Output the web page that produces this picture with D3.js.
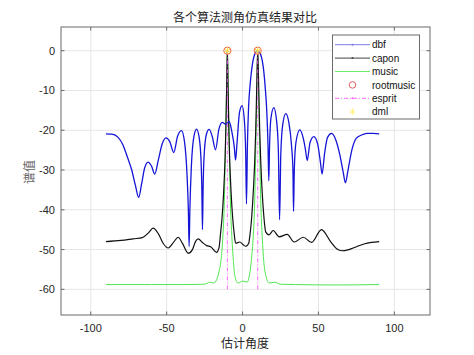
<!DOCTYPE html>
<html>
<head>
<meta charset="utf-8">
<script src="https://cdn.jsdelivr.net/npm/d3@7"></script>
<style>
  body { margin: 0; background: #fff; }
  svg { display: block; font-family: 'Liberation Sans', Arial, sans-serif; }
</style>
</head>
<body>
<svg id="chart" width="474" height="355"></svg>
<script>
// values (angle in degrees, spectrum in dB)
const dbfAngles = [-90, -86, -82, -79, -76, -73, -70.5, -68.4, -66.5, -64.5, -62.2, -60, -57.8, -55.5, -53, -50.5, -48, -45.3, -42.8, -40.2,
    -38.2, -36.6, -35.7, -35.2, -34.7, -33.7, -32, -30.3, -28.5, -27.3, -26.8, -26.4, -26, -25.4, -23.8, -22, -20, -17.8, -15.6, -13.4,
    -11.2, -8.8, -7, -5.5, -4.6, -3.6, -2, -0.3, 1.2, 2.1, 2.6, 3.2, 4, 5, 6, 7, 8, 9, 10, 11, 12, 13, 14, 15, 16, 16.8, 17.3, 17.8,
    18.7, 20.6, 22.4, 23.6, 24.4, 25.2, 26.5, 28.5, 30.5, 32.3, 33.2, 33.6, 34.1, 35.2, 37.7, 40, 41.5, 42.6, 44.5, 47, 49.5, 51.3,
    52.4, 54, 56, 58.6, 61.5, 64, 66.3, 67.8, 69.5, 72, 75, 78.4, 82, 86, 90]
const dbfValues = [-20.9, -21, -21.8, -23.5, -26.6, -30, -34, -36.9, -33.5, -29.5, -28, -29, -31, -27.5, -23.5, -21.9, -22.8, -25.6, -21.5, -20.1,
    -23, -31, -40, -49.2, -40, -29, -21.5, -19.7, -22, -28, -35, -45, -35, -27, -21, -19.8, -21.5, -24.9, -19.8, -18,
    -18.5, -17.8, -20.5, -24, -27.5, -23, -15.5, -13.8, -17.5, -26, -38.5, -24, -14, -8.5, -4.8, -2.3, -0.9, -0.2, 0, -0.2, -1, -2.5, -5.2, -9.5, -15.5, -24, -32.7, -24,
    -17, -14.3, -17.5, -25, -42.5, -26, -18.5, -15.8, -18, -24, -30, -40.4, -30, -23, -19.9, -22, -25, -27.6, -23, -21.6, -23.5, -28,
    -31, -26, -21.8, -20.8, -22.5, -26, -30.5, -33.2, -30, -25, -22, -21.2, -20.8, -20.8, -20.9]

const caponAngles = [-90, -80, -72, -66, -62, -58.9, -55.5, -52, -49, -45.5, -42.4, -39.5, -35.8, -33, -31, -29.2, -26.5, -23.7, -21, -17.1,
    -15.5, -14.5, -13.5, -12.5, -11.5, -11, -10.5, -10, -9.5, -9, -8.5, -7.5, -6.5, -5.5, -4.6, -1.8, 0.5, 2.2, 4, 5, 6, 7, 8, 8.7,
    9.3, 10, 10.7, 11.3, 12, 13, 14, 15.3, 17.5, 20.2, 24.1, 29.4, 34, 40, 45.5, 52, 58, 62, 65.5, 70, 75, 80, 85, 90]
const caponValues = [-48, -47.7, -47.3, -47, -45.8, -44.6, -46, -48.6, -49.6, -48.2, -46.9, -48.5, -50.9, -50, -48, -47.3, -48.2, -49, -49.3, -50.7,
    -49.5, -46, -42, -36, -27, -20, -10, 0, -10, -20, -27, -36, -42, -46, -48.4, -48.1, -48.8, -49.2, -48.5, -46, -42, -36, -28, -20,
    -10, 0, -10, -20, -28, -36, -41.5, -45.6, -46.3, -45.2, -46.8, -46.2, -48.1, -46.9, -48.2, -45, -48, -49.8, -50.3, -50, -49.3, -48.6, -48.2, -48]

const musicAngles = [-90, -60, -40, -25, -21.5, -19, -17, -15.5, -14, -13, -12, -11, -10.5, -10, -9.5, -9, -8, -7, -6, -5, -3, 0.3, 3, 4.5,
    6, 7, 8, 9, 9.5, 10, 10.5, 11, 12, 13, 14, 15.5, 17.5, 21.3, 25, 35, 60, 90]
const musicValues = [-58.8, -58.8, -58.8, -58.7, -58.2, -58.4, -57.5, -55.5, -52, -47, -38, -19, -9, 0, -9, -19, -38, -47, -53, -56.8, -58.4, -57.9, -58.2, -56.5,
    -52, -47, -38, -19, -9, 0, -9, -19, -38, -47, -53, -56.8, -58.4, -58.2, -58.7, -58.8, -58.9, -58.8]

const rootmusicAngles = [-10, 10]
const rootmusicValues = [0, 0]
const espritAngles = [-10, 10]
const espritRange = [-60, 0]
const dmlAngles = [-10, 10]
const dmlValues = [0, 0]

const xTicks = [-100, -50, 0, 50, 100]
const yTicks = [0, -10, -20, -30, -40, -50, -60]
const legendNames = ['dbf', 'capon', 'music', 'rootmusic', 'esprit', 'dml']

const svg = d3.select('#chart')
const plotLeft = 61
const plotRight = 430
const plotTop = 27
const plotBottom = 315

const x = d3.scaleLinear().domain([-119.6, 123.5]).range([plotLeft, plotRight])
const y = d3.scaleLinear().domain([-66.45, 5.96]).range([plotBottom, plotTop])

// grid
svg.append('g')
    .selectAll('line')
    .data(xTicks)
    .join('line')
    .attr('x1', d => x(d)).attr('x2', d => x(d))
    .attr('y1', plotTop).attr('y2', plotBottom)
    .attr('stroke', '#e6e6e6')

svg.append('g')
    .selectAll('line')
    .data(yTicks)
    .join('line')
    .attr('x1', plotLeft).attr('x2', plotRight)
    .attr('y1', d => y(d)).attr('y2', d => y(d))
    .attr('stroke', '#e6e6e6')

const plot = svg.append('g')

const line = d3.line()
    .x(d => x(d[0]))
    .y(d => y(d[1]))
    .curve(d3.curveMonotoneX)

const zip = (a, b) => a.map((v, i) => [v, b[i]])

plot.append('path')
    .datum(zip(musicAngles, musicValues))
    .attr('d', line)
    .attr('fill', 'none')
    .attr('stroke', '#4fe64f')
    .attr('stroke-width', 1)

plot.append('path')
    .datum(zip(caponAngles, caponValues))
    .attr('d', line)
    .attr('fill', 'none')
    .attr('stroke', '#111')
    .attr('stroke-width', 1.2)

plot.append('path')
    .datum(zip(dbfAngles, dbfValues))
    .attr('d', line)
    .attr('fill', 'none')
    .attr('stroke', '#1515d8')
    .attr('stroke-width', 1.3)

// esprit vertical dash-dot lines
plot.selectAll('.esprit')
    .data(espritAngles)
    .join('line')
    .attr('class', 'esprit')
    .attr('x1', d => x(d)).attr('x2', d => x(d))
    .attr('y1', y(espritRange[0])).attr('y2', y(espritRange[1]))
    .attr('stroke', '#ff55ff')
    .attr('stroke-width', 0.9)
    .attr('stroke-dasharray', '4,2,1,2')

plot.selectAll('.root')
    .data(zip(rootmusicAngles, rootmusicValues))
    .join('circle')
    .attr('class', 'root')
    .attr('cx', d => x(d[0]))
    .attr('cy', d => y(d[1]))
    .attr('r', 3.6)
    .attr('fill', 'none')
    .attr('stroke', '#f0603a')
    .attr('stroke-width', 1)

const star = d3.symbol().type(d3.symbolAsterisk).size(30)
plot.selectAll('.dml')
    .data(zip(dmlAngles, dmlValues))
    .join('path')
    .attr('class', 'dml')
    .attr('d', star)
    .attr('transform', d => `translate(${x(d[0])},${y(d[1])})`)
    .attr('fill', 'none')
    .attr('stroke', '#ffe040')
    .attr('stroke-width', 1)

// axes box with inward ticks
svg.append('rect')
    .attr('x', plotLeft).attr('y', plotTop)
    .attr('width', plotRight - plotLeft).attr('height', plotBottom - plotTop)
    .attr('fill', 'none')
    .attr('stroke', '#6a6a6a')
    .attr('stroke-width', 1)

const tickLen = 3.5
const ticks = svg.append('g').attr('stroke', '#6a6a6a')
xTicks.forEach(t => {
    ticks.append('line').attr('x1', x(t)).attr('x2', x(t)).attr('y1', plotBottom).attr('y2', plotBottom - tickLen)
    ticks.append('line').attr('x1', x(t)).attr('x2', x(t)).attr('y1', plotTop).attr('y2', plotTop + tickLen)
})
yTicks.forEach(t => {
    ticks.append('line').attr('x1', plotLeft).attr('x2', plotLeft + tickLen).attr('y1', y(t)).attr('y2', y(t))
    ticks.append('line').attr('x1', plotRight).attr('x2', plotRight - tickLen).attr('y1', y(t)).attr('y2', y(t))
})

svg.append('g')
    .selectAll('text')
    .data(xTicks)
    .join('text')
    .attr('x', d => x(d))
    .attr('y', 332)
    .attr('text-anchor', 'middle')
    .attr('font-size', 11)
    .attr('fill', '#262626')
    .text(d => d)

svg.append('g')
    .selectAll('text')
    .data(yTicks)
    .join('text')
    .attr('x', 55)
    .attr('y', d => y(d) + 4)
    .attr('text-anchor', 'end')
    .attr('font-size', 11)
    .attr('fill', '#262626')
    .text(d => d)

svg.append('text')
    .attr('x', 245).attr('y', 22)
    .attr('text-anchor', 'middle')
    .attr('font-family', "'Noto Sans CJK SC', sans-serif")
    .attr('font-size', 12)
    .attr('fill', '#222')
    .text('各个算法测角仿真结果对比')

svg.append('text')
    .attr('x', 245).attr('y', 348)
    .attr('text-anchor', 'middle')
    .attr('font-family', "'Noto Sans CJK SC', sans-serif")
    .attr('font-size', 12)
    .attr('fill', '#262626')
    .text('估计角度')

svg.append('text')
    .attr('transform', 'translate(34,172) rotate(-90)')
    .attr('text-anchor', 'middle')
    .attr('font-family', "'Noto Sans CJK SC', sans-serif")
    .attr('font-size', 12)
    .attr('fill', '#666')
    .text('谱值')

// legend
const legend = svg.append('g')
legend.append('rect')
    .attr('x', 332.5).attr('y', 35)
    .attr('width', 87).attr('height', 84)
    .attr('fill', '#fff')
    .attr('stroke', '#6a6a6a')

const rowY = i => 44.7 + i * 13.4
const lx1 = 335
const lx2 = 370
const lmid = (lx1 + lx2) / 2

legendNames.forEach((name, i) => {
    const g = legend.append('g')
    const yy = rowY(i)
    if (name === 'dbf' || name === 'capon' || name === 'music' || name === 'esprit') {
        const stroke = { dbf: '#7d7de8', capon: '#444', music: '#6ef06e', esprit: '#ff66ff' }[name]
        g.append('line')
            .attr('x1', lx1).attr('x2', lx2).attr('y1', yy).attr('y2', yy)
            .attr('stroke', stroke)
            .attr('stroke-width', 1)
            .attr('stroke-dasharray', name === 'esprit' ? '4,2,1,2' : null)
        if (name !== 'music') {
            g.append('circle').attr('cx', lmid).attr('cy', yy).attr('r', 1).attr('fill', stroke)
        }
    } else if (name === 'rootmusic') {
        g.append('circle').attr('cx', lmid).attr('cy', yy).attr('r', 3.3)
            .attr('fill', 'none').attr('stroke', '#e06060')
    } else {
        g.append('path').attr('d', star).attr('transform', `translate(${lmid},${yy})`)
            .attr('fill', 'none').attr('stroke', '#fff27a')
    }
    g.append('text')
        .attr('x', 372).attr('y', yy + 3.6)
        .attr('font-size', 10)
        .attr('fill', '#111')
        .text(name)
})
</script>
</body>
</html>
